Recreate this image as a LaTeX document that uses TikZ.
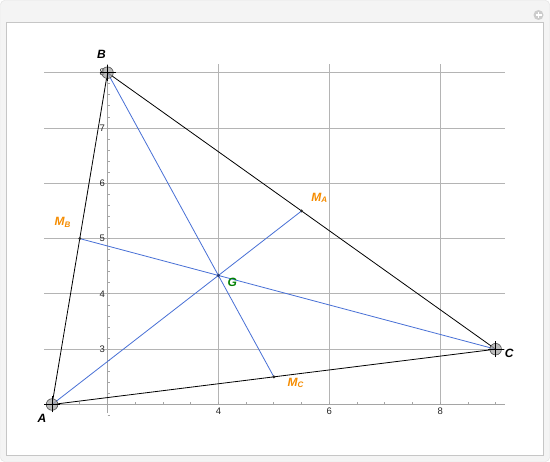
\documentclass[tikz,border=0pt]{standalone}
\usepackage{fontspec}
\setmainfont{Liberation Sans}
\usetikzlibrary{calc}

\definecolor{medianblue}{RGB}{72,112,214}
\definecolor{labelorange}{RGB}{245,140,0}
\definecolor{labelgreen}{RGB}{0,128,0}
\definecolor{gridgray}{RGB}{180,180,180}
\definecolor{axisgray}{RGB}{165,165,165}
\definecolor{panelgray}{RGB}{244,244,244}

\tikzset{
  gridline/.style={gridgray, line width=0.8pt},
  axisline/.style={axisgray, line width=0.8pt},
  side/.style={black, line width=0.8pt},
  median/.style={medianblue, line width=0.8pt},
  ticklabel/.style={font=\fontsize{9.5}{11}\selectfont, text=black!85, inner sep=1.5pt},
  ptlabel/.style={font=\fontsize{12}{14}\selectfont\bfseries\itshape, inner sep=0pt},
  locator/.style={fill=gray!70, fill opacity=0.75, draw=black!70, line width=0.6pt},
}

\begin{document}
\begin{tikzpicture}[x=1pt,y=-1pt]
  \useasboundingbox (0,0) rectangle (550,462);

  % Panel and frame
  \draw[fill=panelgray, draw=gray!25, rounded corners=4pt] (0.5,0.5) rectangle (549.5,461.5);
  \draw[fill=white, draw=gray!45, line width=0.8pt] (6.5,22.5) rectangle (543,455);
  \fill[gray!40] (538.5,15) circle (5pt);
  \draw[white, line width=1.2pt] (535.5,15) -- (541.5,15) (538.5,12) -- (538.5,18);

  \begin{scope}[shift={(-3.4,515.1)}, x=55.45pt, y=55.3pt]
    % Grid
    \foreach \y in {3,...,8} {
      \draw[gridline] (0.855,\y) -- (9.17,\y);
    }
    \foreach \x in {4,6,8} {
      \draw[gridline] (\x,2) -- (\x,8.157);
    }

    % Axes and ticks
    \draw[axisline] (0.855,2) -- (9.17,2);
    \draw[axisline] (2,1.846) -- (2,8.157);
    \foreach \x in {1,1.5,...,9} {
      \draw[axisline] (\x,2) -- ++(0,2.5pt);
    }
    \foreach \y in {1.8,2.0,...,8.05} {
      \draw[axisline] (2,\y) -- ++(2.5pt,0);
    }
    \foreach \x in {4,6,8} {
      \node[ticklabel, below=2pt] (xt\x) at (\x,2) {\x};
    }
    \foreach \y in {3,...,8} {
      \node[ticklabel, left=1pt] (yt\y) at (2,\y) {\y};
    }

    % Triangle, midpoints and centroid
    \coordinate (A) at (1,2);
    \coordinate (B) at (2,8);
    \coordinate (C) at (9,3);
    \coordinate (mA) at ($(B)!0.5!(C)$);
    \coordinate (mB) at ($(A)!0.5!(B)$);
    \coordinate (mC) at ($(A)!0.5!(C)$);
    \coordinate (G) at ($1/3*(A)+1/3*(B)+1/3*(C)$);

    \draw[median] (A) -- (mA);
    \draw[median] (C) -- (mB);
    \draw[median] (B) -- (mC);
    \draw[side] (A) -- (B) -- (C) -- cycle;

    \foreach \p in {mA,mB,mC} {
      \fill[black!85] (\p) circle (1.6pt);
    }
    \fill[medianblue!55!black] (G) circle (1.8pt);

    % Locators
    \foreach \p in {A,B,C} {
      \draw[locator] (\p) circle (5.8pt);
      \draw[black, line width=0.7pt] (\p) ++(-8pt,0) -- ++(16pt,0);
      \draw[black, line width=0.7pt] (\p) ++(0,-8pt) -- ++(0,16pt);
    }

    % Labels
    \node[ptlabel] (labA) at ([shift={(-10pt,-13.5pt)}]A) {A};
    \node[ptlabel] (labB) at ([shift={(-6pt,18pt)}]B) {B};
    \node[ptlabel] (labC) at ([shift={(13.5pt,-4pt)}]C) {C};
    \node[ptlabel, labelorange] (labmA) at ([shift={(18pt,13pt)}]mA) {M\textsubscript{A}};
    \node[ptlabel, labelorange] (labmB) at ([shift={(-17pt,16pt)}]mB) {M\textsubscript{B}};
    \node[ptlabel, labelorange] (labmC) at ([shift={(22pt,-6pt)}]mC) {M\textsubscript{C}};
    \node[ptlabel, labelgreen] (labG) at ([shift={(14pt,-7pt)}]G) {G};
  \end{scope}
\end{tikzpicture}
\end{document}
